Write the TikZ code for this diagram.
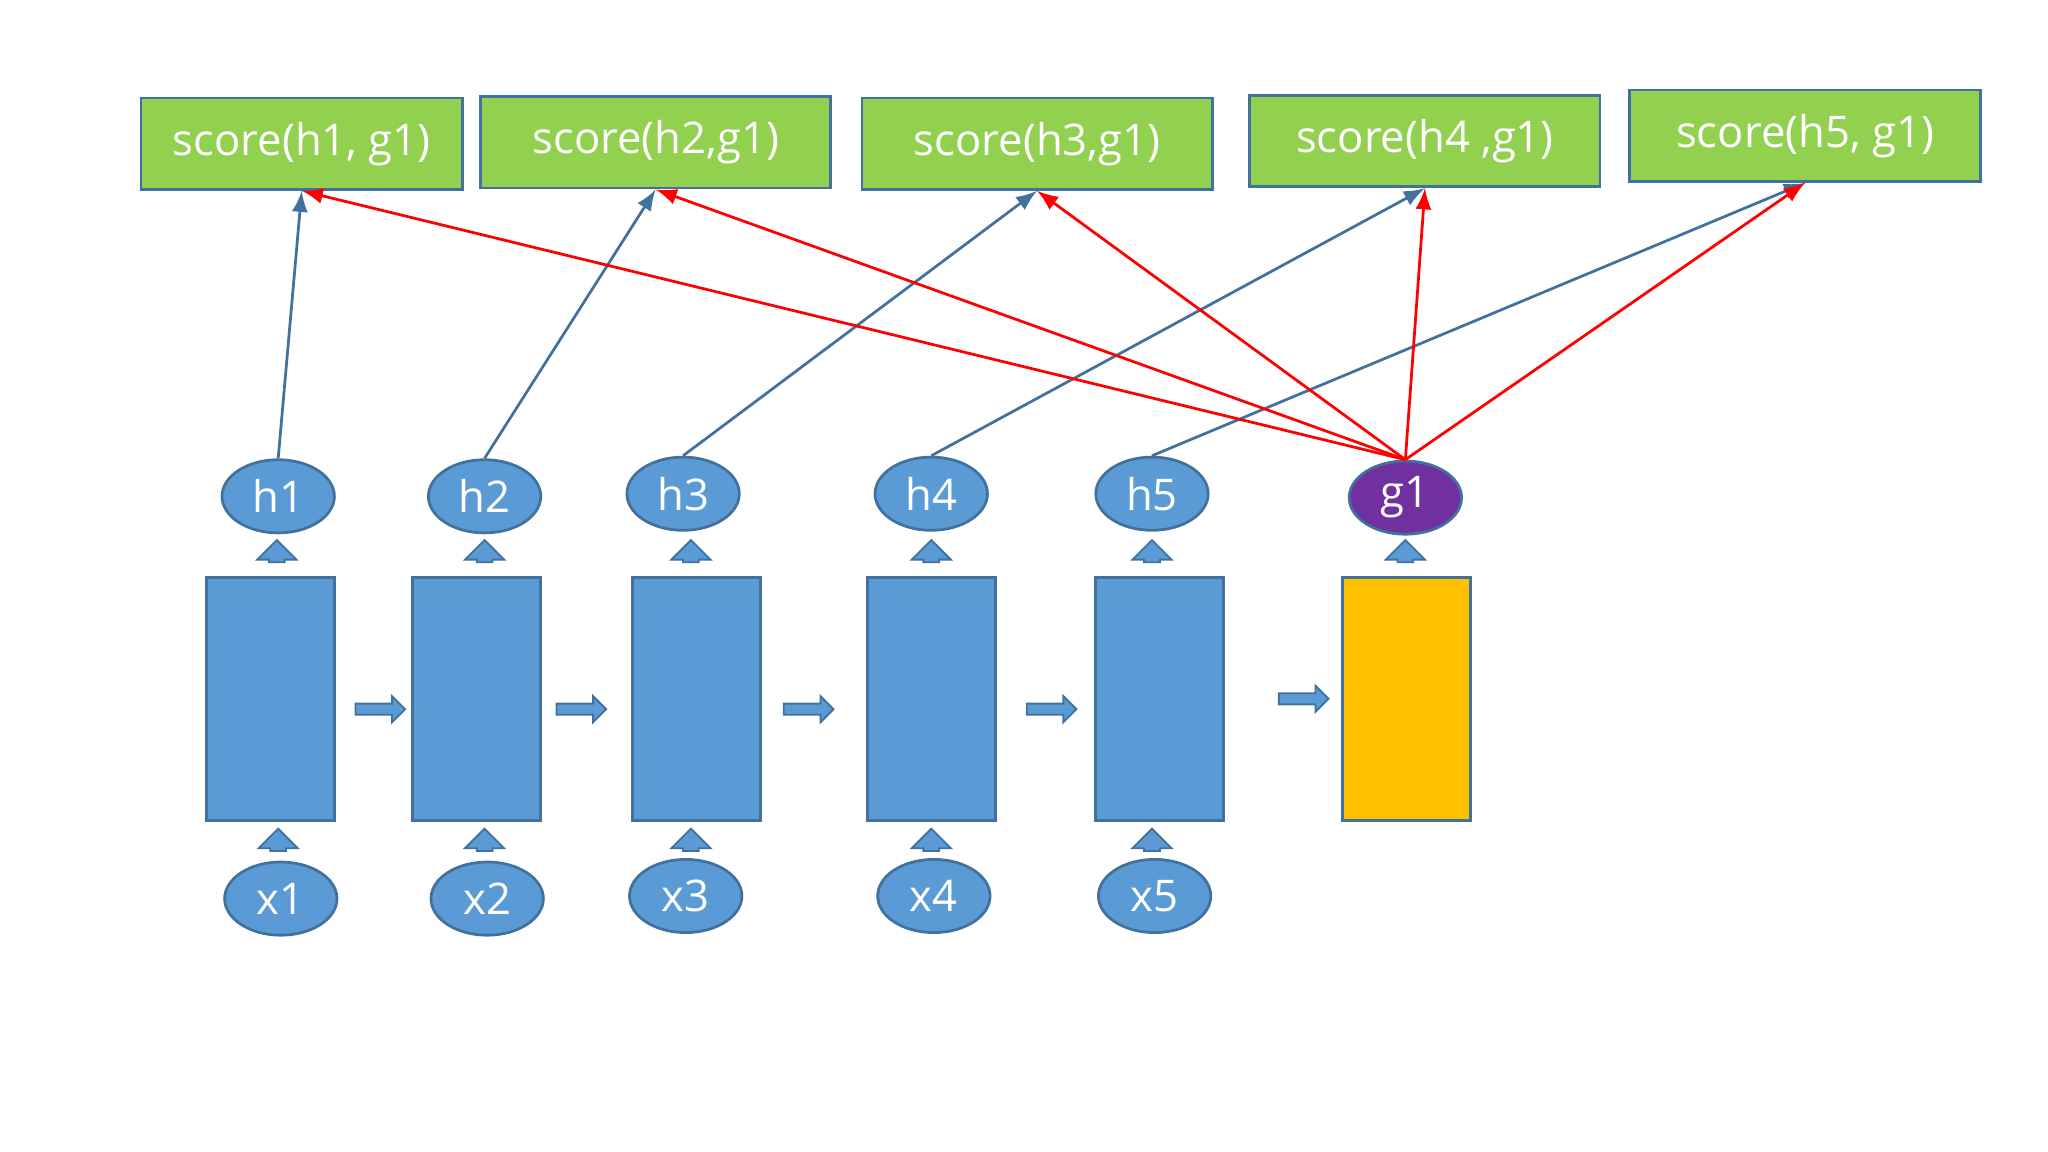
\documentclass[tikz,border=0pt]{standalone}
\usepackage{fontspec}
\setmainfont{Open Sans}
\usetikzlibrary{shapes.arrows,shapes.geometric}
\definecolor{cellblue}{HTML}{5B9BD5}
\definecolor{edgeblue}{HTML}{41719C}
\definecolor{scoregreen}{HTML}{92D050}
\definecolor{gpurple}{HTML}{7030A0}
\definecolor{gyellow}{HTML}{FFC000}
\begin{document}
\begin{tikzpicture}[x=0.01cm,y=-0.01cm,
    score/.style={draw=edgeblue,fill=scoregreen,semithick,text=white,font=\fontsize{9.5}{10}\selectfont,minimum width=2.68cm,minimum height=0.7cm,inner sep=0},
    state/.style={ellipse,draw=edgeblue,fill=cellblue,semithick,text=white,font=\fontsize{9.5}{10}\selectfont,minimum width=0.86cm,minimum height=0.56cm,inner sep=0},
    cell/.style={draw=edgeblue,fill=cellblue,semithick,minimum width=0.98cm,minimum height=1.86cm,inner sep=0},
    uparr/.style={single arrow,draw=edgeblue,fill=cellblue,rotate=90,minimum height=0.17cm,minimum width=0.3cm,single arrow head extend=0.07cm,inner sep=0.04cm},
    rtarr/.style={single arrow,draw=edgeblue,fill=cellblue,minimum height=0.38cm,minimum width=0.2cm,single arrow head extend=0.05cm,inner sep=0.03cm},
    att/.style={edgeblue,semithick,-latex},
    gatt/.style={red,semithick,-latex}
]
\useasboundingbox (0,0) rectangle (1568,882);
% Score boxes
\node[score,minimum width=2.46cm] (s1) at (231,110) {score(h1, g1)};
\node[score] (s2) at (502,109) {score(h2,g1)};
\node[score] (s3) at (794,110) {score(h3,g1)};
\node[score] (s4) at (1091,108) {score(h4 ,g1)};
\node[score,minimum width=2.69cm] (s5) at (1382,104) {score(h5, g1)};
% Cells
\node[cell] (c1) at (207,535) {};
\node[cell] (c2) at (365,535) {};
\node[cell] (c3) at (533,535) {};
\node[cell] (c4) at (713,535) {};
\node[cell] (c5) at (888,535) {};
\node[cell,fill=gyellow] (c6) at (1077,535) {};
% Hidden states
\node[state] (h1) at (213,380) {h1};
\node[state] (h2) at (371,380) {h2};
\node[state] (h3) at (523,378) {h3};
\node[state] (h4) at (713,378) {h4};
\node[state] (h5) at (882,378) {h5};
\node[state,fill=gpurple] (g1) at (1076,381) {g1};
% Inputs
\node[state] (x1) at (215,688) {x1};
\node[state] (x2) at (373,688) {x2};
\node[state] (x3) at (525,686) {x3};
\node[state] (x4) at (715,686) {x4};
\node[state] (x5) at (884,686) {x5};
% Small arrows
\foreach \n/\x in {a1/212,a2/371,a3/529,a4/713,a5/882,a6/1076}
    \node[uparr] (\n) at (\x,425) {};
\foreach \n/\x in {b1/213,b2/371,b3/529,b4/713,b5/882}
    \node[uparr] (\n) at (\x,646) {};
\foreach \n/\x/\y in {r1/289/543,r2/443/543,r3/617/543,r4/803/543,r5/996/535}
    \node[rtarr] (\n) at (\x,\y) {};
% Attention lines
\draw[att] (h1.north) -- (s1.south);
\draw[att] (h2.north) -- (s2.south);
\draw[att] (h3.north) -- (s3.south);
\draw[att] (h4.north) -- (s4.south);
\draw[att] (h5.north) -- (s5.south);
\foreach \s in {s1,s2,s3,s4,s5}
    \draw[gatt] (g1.north) -- (\s.south);
\end{tikzpicture}
\end{document}
